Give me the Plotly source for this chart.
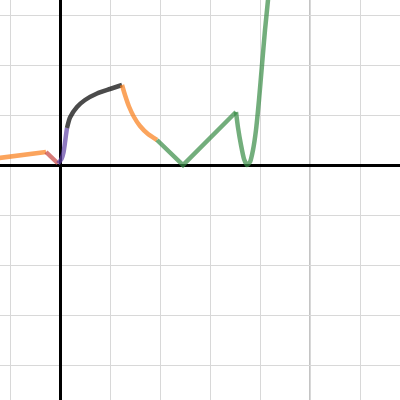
import plotly.graph_objects as go

seg_orange1_x = [-1.3, -0.8, -0.28]
seg_orange1_y = [0.13, 0.2, 0.26]
seg_red_x = [-0.28, -0.16, -0.04]
seg_red_y = [0.26, 0.15, 0.03]
seg_purple_x = [-0.04, 0.03, 0.07, 0.1, 0.12, 0.14]
seg_purple_y = [0.03, 0.12, 0.25, 0.45, 0.6, 0.74]
seg_dark_x = [0.14, 0.2, 0.34, 0.5, 0.74, 1.0, 1.24]
seg_dark_y = [0.74, 0.95, 1.16, 1.3, 1.43, 1.52, 1.6]
seg_orange2_x = [1.24, 1.3, 1.38, 1.48, 1.6, 1.76, 1.94]
seg_orange2_y = [1.6, 1.4, 1.17, 0.96, 0.78, 0.62, 0.5]
seg_greenv_x = [1.94, 2.46, 3.52]
seg_greenv_y = [0.5, 0.0, 1.06]
seg_green_x = [3.52, 3.56, 3.62, 3.68, 3.74, 3.8, 3.86, 3.92, 3.98, 4.04, 4.1, 4.16, 4.2]
seg_green_y = [1.06, 0.75, 0.4, 0.12, 0.0, 0.06, 0.3, 0.7, 1.3, 2.0, 2.7, 3.3, 3.8]

segs = [
    (seg_orange1_x, seg_orange1_y, "#fa7e19", "linear"),
    (seg_red_x, seg_red_y, "#c74440", "linear"),
    (seg_purple_x, seg_purple_y, "#6042a6", "spline"),
    (seg_dark_x, seg_dark_y, "#000000", "spline"),
    (seg_orange2_x, seg_orange2_y, "#fa7e19", "spline"),
    (seg_greenv_x, seg_greenv_y, "#388c46", "linear"),
    (seg_green_x, seg_green_y, "#388c46", "spline"),
]

fig = go.Figure()
for x, y, c, s in segs:
    fig.add_trace(go.Scatter(x=x, y=y, mode="lines", line=dict(color=c, width=4.5, shape=s, smoothing=0.6),
                             opacity=0.7, showlegend=False, hoverinfo="skip"))

fig.add_shape(type="line", x0=5, x1=5, y0=-6, y1=4, line=dict(color="#888888", width=1), layer="below")

fig.update_layout(
    width=400, height=400, margin=dict(l=0, r=0, t=0, b=0),
    plot_bgcolor="white", paper_bgcolor="white",
    xaxis=dict(range=[-1.2, 6.8], dtick=1, showgrid=True, gridcolor="#d8d8d8", gridwidth=1,
               zeroline=True, zerolinecolor="black", zerolinewidth=2.5, showticklabels=False, fixedrange=True),
    yaxis=dict(range=[-4.7, 3.3], dtick=1, showgrid=True, gridcolor="#d8d8d8", gridwidth=1,
               zeroline=True, zerolinecolor="black", zerolinewidth=2.5, showticklabels=False, fixedrange=True),
)
fig.write_html("out.html", config={"displayModeBar": False},
               post_script="document.body.style.margin='0';document.body.style.overflow='hidden';")
